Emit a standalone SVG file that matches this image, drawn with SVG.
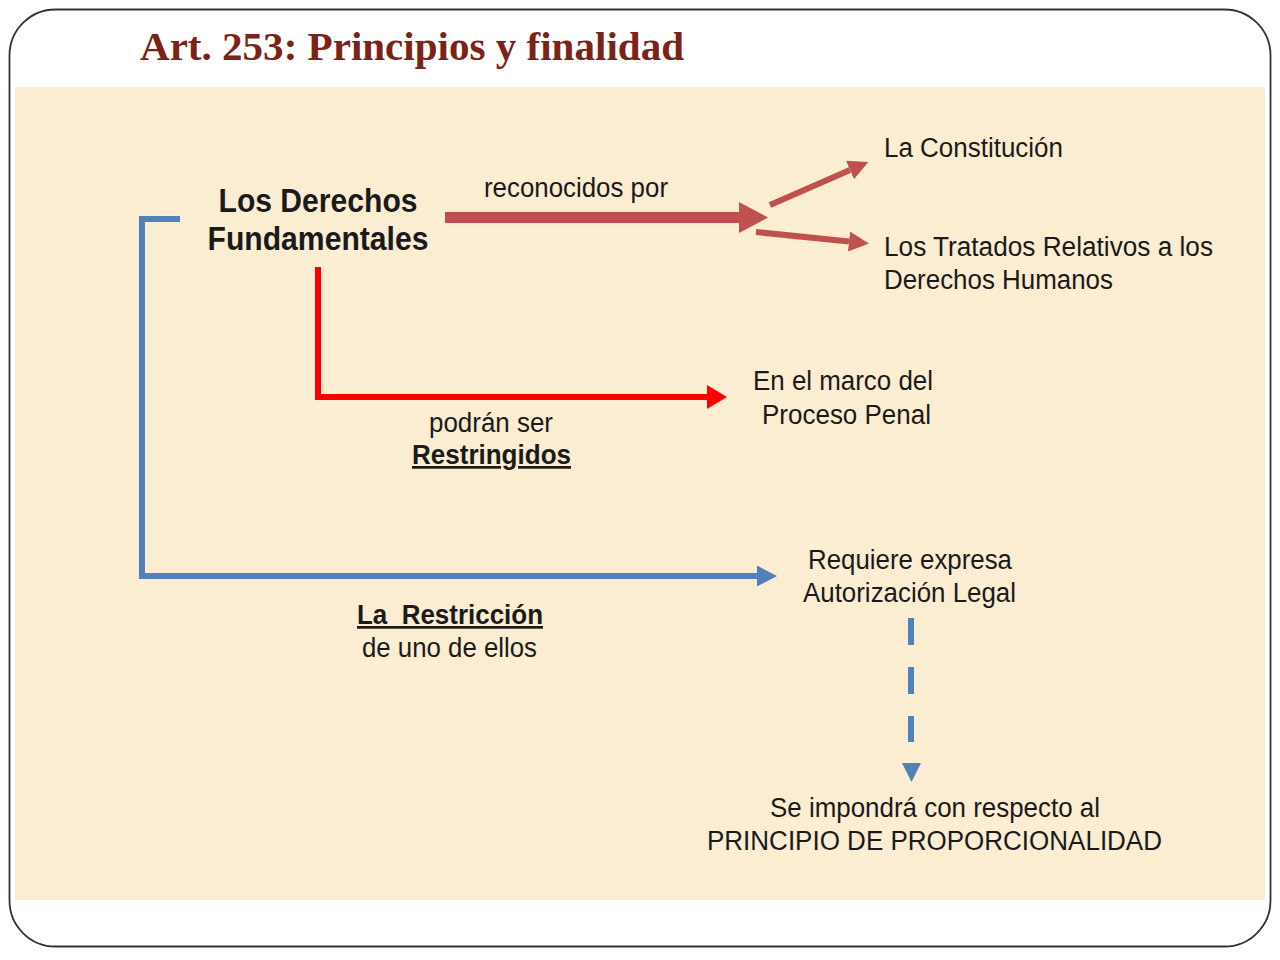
<svg xmlns="http://www.w3.org/2000/svg" width="1280" height="960" viewBox="0 0 1280 960">
<defs>
<style>
.t{font-family:"Liberation Sans",Arial,sans-serif;font-size:27px;fill:#1a1a1a;}
.b{font-weight:bold;}
.h{font-size:34px;}
.u{text-decoration:underline;}
.title{font-family:"Liberation Serif","Times New Roman",serif;font-size:40px;font-weight:bold;fill:#7A2316;}
.dark{stroke:#C0504D;fill:none;}
.red{stroke:#FF0000;fill:none;stroke-width:6;}
.blue{stroke:#4F81BD;fill:none;stroke-width:6;}
</style>
<marker id="mDark" viewBox="0 0 10 10" refX="0" refY="5" markerWidth="20" markerHeight="20" orient="auto" markerUnits="userSpaceOnUse">
<path d="M0,0 L10,5 L0,10 z" fill="#C0504D"/>
</marker>
<marker id="mRed" viewBox="0 0 10 10" refX="0" refY="5" markerWidth="20" markerHeight="24" orient="auto" markerUnits="userSpaceOnUse" preserveAspectRatio="none">
<path d="M0,0 L10,5 L0,10 z" fill="#FF0000"/>
</marker>
<marker id="mBlue" viewBox="0 0 10 10" refX="0" refY="5" markerWidth="20" markerHeight="21" orient="auto" markerUnits="userSpaceOnUse" preserveAspectRatio="none">
<path d="M0,0 L10,5 L0,10 z" fill="#4F81BD"/>
</marker>
</defs>
<rect x="0" y="0" width="1280" height="960" fill="#ffffff"/>
<rect x="9.5" y="9.5" width="1261" height="937" rx="46" ry="46" fill="#ffffff" stroke="#333333" stroke-width="1.8"/>
<rect x="15" y="87" width="1250" height="813" fill="#FAEDD2"/>
<text class="title" x="140" y="60" textLength="544" lengthAdjust="spacingAndGlyphs">Art. 253: Principios y finalidad</text>

<g id="connectors">
<path class="dark" stroke-width="11" d="M445,217.5 H741"/>
<path d="M739,202 L768,217.5 L739,233 z" fill="#C0504D"/>
<path class="dark" stroke-width="6" d="M770,205 L850,170" marker-end="url(#mDark)"/>
<path class="dark" stroke-width="6" d="M756,232 L849,241.5" marker-end="url(#mDark)"/>
<path class="red" d="M318,267 V397 H707" marker-end="url(#mRed)"/>
<path class="blue" d="M180,219 H142 V576 H757" marker-end="url(#mBlue)"/>
<path class="blue" d="M911,618 V742" stroke-dasharray="27 22"/>
<path d="M902,763 L921,763 L911.5,782 z" fill="#4F81BD"/>
</g>

<g id="node-derechos">
<text class="t b h" x="318" y="212" text-anchor="middle" textLength="199" lengthAdjust="spacingAndGlyphs">Los Derechos</text>
<text class="t b h" x="318" y="250" text-anchor="middle" textLength="221" lengthAdjust="spacingAndGlyphs">Fundamentales</text>
</g>
<g id="label-reconocidos">
<text class="t" x="484" y="197" textLength="184" lengthAdjust="spacingAndGlyphs">reconocidos por</text>
</g>
<g id="node-constitucion">
<text class="t" x="884" y="157" textLength="179" lengthAdjust="spacingAndGlyphs">La Constitución</text>
</g>
<g id="node-tratados">
<text class="t" x="884" y="256" textLength="329" lengthAdjust="spacingAndGlyphs">Los Tratados Relativos a los</text>
<text class="t" x="884" y="289" textLength="229" lengthAdjust="spacingAndGlyphs">Derechos Humanos</text>
</g>
<g id="node-marco">
<text class="t" x="753" y="390" textLength="180" lengthAdjust="spacingAndGlyphs">En el marco del</text>
<text class="t" x="762" y="424" textLength="169" lengthAdjust="spacingAndGlyphs">Proceso Penal</text>
</g>
<g id="label-restringidos">
<text class="t" x="429" y="432" textLength="124" lengthAdjust="spacingAndGlyphs">podrán ser</text>
<text class="t b u" x="412" y="464" textLength="159" lengthAdjust="spacingAndGlyphs">Restringidos</text>
</g>
<g id="node-autorizacion">
<text class="t" x="808" y="569" textLength="204" lengthAdjust="spacingAndGlyphs">Requiere expresa</text>
<text class="t" x="803" y="602" textLength="213" lengthAdjust="spacingAndGlyphs">Autorización Legal</text>
</g>
<g id="label-restriccion">
<text class="t b u" x="357" y="624" textLength="186" lengthAdjust="spacingAndGlyphs" xml:space="preserve">La  Restricción</text>
<text class="t" x="362" y="657" textLength="175" lengthAdjust="spacingAndGlyphs">de uno de ellos</text>
</g>
<g id="node-proporcionalidad">
<text class="t" x="770" y="817" textLength="330" lengthAdjust="spacingAndGlyphs">Se impondrá con respecto al</text>
<text class="t" x="707" y="850" textLength="455" lengthAdjust="spacingAndGlyphs">PRINCIPIO DE PROPORCIONALIDAD</text>
</g>
</svg>
